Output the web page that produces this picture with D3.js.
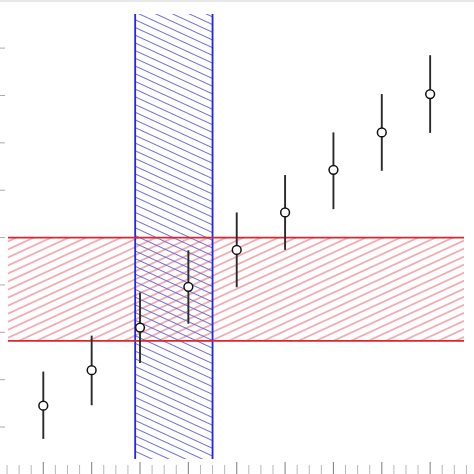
<!DOCTYPE html>
<html>
<head>
<meta charset="utf-8">
<script src="https://cdn.jsdelivr.net/npm/d3@7"></script>
<style>
  html, body { margin: 0; padding: 0; background: #fff; }
  svg { display: block; }
</style>
</head>
<body>
<svg id="chart"></svg>
<script>
// points with error bars
const xs = [1, 2, 3, 4, 5, 6, 7, 8, 9];
const ys = [0.45, 1.2, 2.1, 2.96, 3.74, 4.53, 5.43, 6.22, 7.03];
const lows = [-0.25, 0.46, 1.35, 2.18, 2.95, 3.74, 4.6, 5.41, 6.21];
const highs = [1.17, 1.93, 2.84, 3.73, 4.53, 5.32, 6.22, 7.03, 7.85];

// shaded bands
const hBand = [1.82, 4.0];   // red, horizontal
const vBand = [2.9, 4.5];    // blue, vertical

const yTicks = [0, 1, 2, 3, 4, 5, 6, 7, 8];

const W = 474, H = 474;
const svg = d3.select('#chart').attr('width', W).attr('height', H);

const x = d3.scaleLinear().domain([0.27, 9.7]).range([8, 464]);
const y = d3.scaleLinear().domain([-0.675, 8.72]).range([459, 14]);

// hatch patterns
const defs = svg.append('defs');
function hatch(id, angle, gap, color) {
  const p = defs.append('pattern').
    attr('id', id).
    attr('patternUnits', 'userSpaceOnUse').
    attr('width', 20).
    attr('height', gap).
    attr('patternTransform', `rotate(${angle})`);
  p.append('line').
    attr('x1', 0).attr('x2', 20).
    attr('y1', gap / 2).attr('y2', gap / 2).
    attr('stroke', color).
    attr('stroke-width', 0.9);
}
hatch('hatch-red', -24.7, 7.3, '#e4505c');
hatch('hatch-blue', 24.7, 7.0, '#6060d8');

// top strip of the picture
svg.append('rect').attr('x', 0).attr('y', 0).attr('width', W).attr('height', 2).
  attr('fill', '#e8e8e8');

// bands
svg.append('rect').
  attr('x', x.range()[0]).
  attr('width', x.range()[1] - x.range()[0]).
  attr('y', y(hBand[1])).
  attr('height', y(hBand[0]) - y(hBand[1])).
  attr('fill', 'url(#hatch-red)');

svg.append('rect').
  attr('x', x(vBand[0])).
  attr('width', x(vBand[1]) - x(vBand[0])).
  attr('y', y.range()[1]).
  attr('height', y.range()[0] - y.range()[1]).
  attr('fill', 'url(#hatch-blue)');

svg.selectAll('.vline').
  data(vBand).
  enter().
  append('line').
  attr('x1', d => x(d)).attr('x2', d => x(d)).
  attr('y1', y.range()[1]).attr('y2', y.range()[0]).
  attr('stroke', '#2323ee').
  attr('stroke-width', 1.8);

svg.selectAll('.hline').
  data(hBand).
  enter().
  append('line').
  attr('x1', x.range()[0]).attr('x2', x.range()[1]).
  attr('y1', d => y(d)).attr('y2', d => y(d)).
  attr('stroke', '#e0242e').
  attr('stroke-width', 1.8);

// ticks: left (major only)
svg.selectAll('.ytick').
  data(yTicks).
  enter().
  append('line').
  attr('x1', 0).attr('x2', 5).
  attr('y1', d => y(d)).attr('y2', d => y(d)).
  attr('stroke', '#aaa').
  attr('stroke-width', 1);

// ticks: bottom, majors on integers, minors every quarter
const xTicks = d3.range(1, 10);
const xMinor = d3.range(0.25, 9.8, 0.25).filter(v => Math.abs(v - Math.round(v)) > 0.01);

svg.selectAll('.xminor').
  data(xMinor).
  enter().
  append('line').
  attr('x1', d => x(d)).attr('x2', d => x(d)).
  attr('y1', 465).attr('y2', 474).
  attr('stroke', '#b8b8b8').
  attr('stroke-width', 1);

svg.selectAll('.xmajor').
  data(xTicks).
  enter().
  append('line').
  attr('x1', d => x(d)).attr('x2', d => x(d)).
  attr('y1', 462).attr('y2', 474).
  attr('stroke', '#888').
  attr('stroke-width', 1.1);

// error bars + markers
const pts = xs.map((d, i) => ({ x: d, y: ys[i], lo: lows[i], hi: highs[i] }));

svg.selectAll('.err').
  data(pts).
  enter().
  append('line').
  attr('x1', d => x(d.x)).attr('x2', d => x(d.x)).
  attr('y1', d => y(d.lo)).attr('y2', d => y(d.hi)).
  attr('stroke', '#2a2a2a').
  attr('stroke-width', 1.9);

svg.selectAll('.pt').
  data(pts).
  enter().
  append('circle').
  attr('cx', d => x(d.x)).
  attr('cy', d => y(d.y)).
  attr('r', 4.4).
  attr('fill', '#fff').
  attr('stroke', '#111').
  attr('stroke-width', 1.5);
</script>
</body>
</html>
